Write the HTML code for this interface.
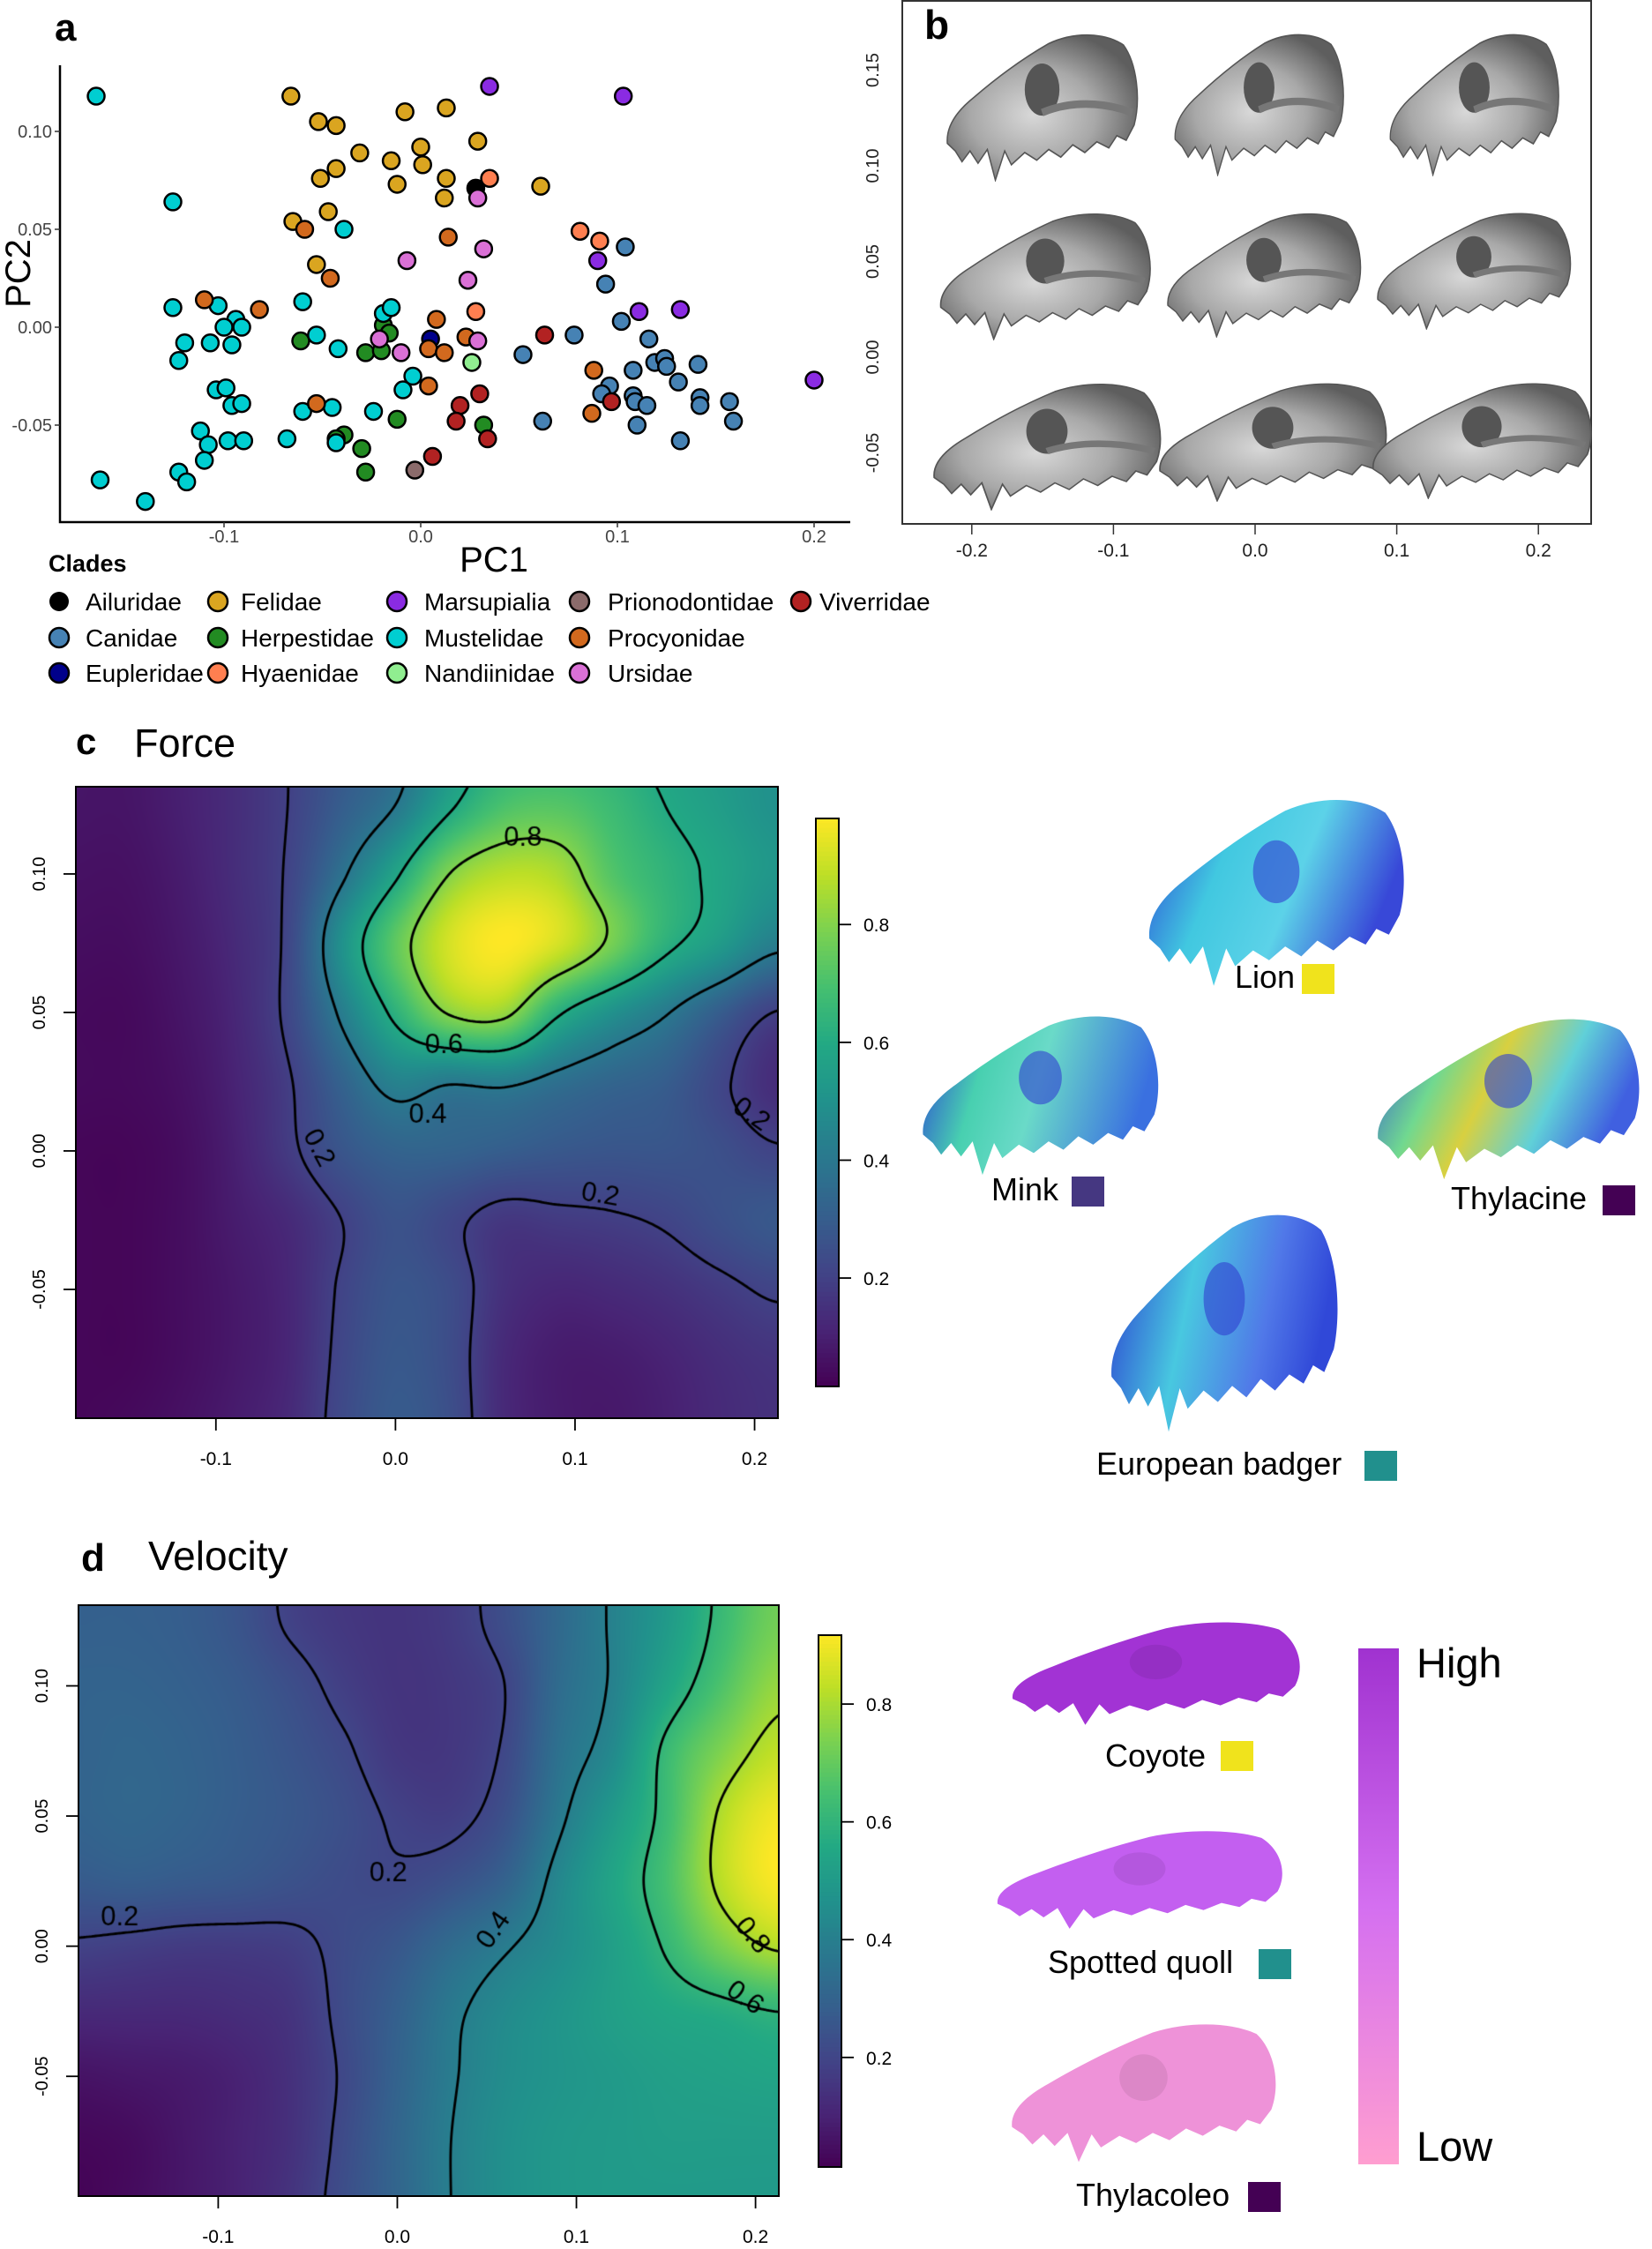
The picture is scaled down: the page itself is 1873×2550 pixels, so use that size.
<!DOCTYPE html>
<html><head><meta charset="utf-8">
<style>
html,body{margin:0;padding:0;background:#fff;}
#root{position:relative;width:1873px;height:2550px;overflow:hidden;background:#fff;font-family:"Liberation Sans",Arial,sans-serif;}
canvas{position:absolute;}
#svg{position:absolute;left:0;top:0;}
</style></head>
<body>
<div id="root">
<canvas id="forceMap" width="796" height="716" style="left:86px;top:892px"></canvas>
<canvas id="velMap" width="794" height="670" style="left:89px;top:1820px"></canvas>
<svg id="svg" width="1873" height="2550" xmlns="http://www.w3.org/2000/svg">
<defs>
<radialGradient id="grayG" cx="0.45" cy="0.55" r="0.6"><stop offset="0" stop-color="#d8d8d8"/><stop offset="0.55" stop-color="#a8a8a8"/><stop offset="1" stop-color="#5e5e5e"/></radialGradient>
<linearGradient id="blueG" x1="0" y1="0" x2="1" y2="0.3"><stop offset="0" stop-color="#2b3fd6"/><stop offset="0.35" stop-color="#41c8e0"/><stop offset="0.65" stop-color="#5cd2e8"/><stop offset="1" stop-color="#3848d8"/></linearGradient>
<linearGradient id="minkG" x1="0" y1="0" x2="1" y2="0.2"><stop offset="0" stop-color="#2b3fd6"/><stop offset="0.3" stop-color="#48d0b0"/><stop offset="0.55" stop-color="#6adac8"/><stop offset="1" stop-color="#3a70e0"/></linearGradient>
<linearGradient id="thyG" x1="0" y1="0" x2="1" y2="0.3"><stop offset="0" stop-color="#3050d8"/><stop offset="0.3" stop-color="#70d890"/><stop offset="0.5" stop-color="#d8d040"/><stop offset="0.75" stop-color="#60d0d8"/><stop offset="1" stop-color="#4060e0"/></linearGradient>
<linearGradient id="badG" x1="0" y1="0" x2="1" y2="0.2"><stop offset="0" stop-color="#2a3ad0"/><stop offset="0.4" stop-color="#48c8e0"/><stop offset="0.75" stop-color="#5078e8"/><stop offset="1" stop-color="#3048d8"/></linearGradient>
<linearGradient id="purpBar" x1="0" y1="0" x2="0" y2="1"><stop offset="0" stop-color="#a032d0"/><stop offset="0.5" stop-color="#d46ff0"/><stop offset="1" stop-color="#ff9ed0"/></linearGradient>
<path id="skull" d="M8,150 C6,128 22,108 48,90 C80,66 120,40 160,20 C200,4 245,6 272,22 C292,46 298,92 288,126 L276,146 L262,140 L250,156 L232,148 L214,162 L196,152 L178,168 L160,158 L142,172 L124,162 L104,178 L94,160 L80,198 L68,158 L54,176 L42,160 L30,174 L20,160 Z"/>
</defs>
<g id="panelA"></g>
<g id="panelB"></g>
<g id="panelC"></g>
<g id="panelD"></g>
</svg>
</div>
<script>
// ---------- Panel a data (PC1 / PC2 per clade) ----------
const cladeNames = ["Ailuridae","Canidae","Eupleridae","Felidae","Herpestidae","Hyaenidae","Marsupialia","Mustelidae","Nandiinidae","Prionodontidae","Procyonidae","Ursidae","Viverridae"];
const cladeColors = ["#000000","#4682b4","#00008b","#daa520","#228b22","#ff7f50","#8a2be2","#00ced1","#90ee90","#8b6b6b","#d2691e","#da70d6","#b22222"];
const ailuridaePC1 = [0.028];
const ailuridaePC2 = [0.071];
const canidaePC1 = [0.104,0.094,0.102,0.116,0.078,0.052,0.119,0.124,0.125,0.141,0.131,0.108,0.096,0.092,0.108,0.109,0.115,0.142,0.142,0.157,0.159,0.062,0.110,0.132];
const canidaePC2 = [0.041,0.022,0.003,-0.006,-0.004,-0.014,-0.018,-0.016,-0.020,-0.019,-0.028,-0.022,-0.030,-0.034,-0.035,-0.038,-0.040,-0.036,-0.040,-0.038,-0.048,-0.048,-0.050,-0.058];
const eupleridaePC1 = [0.005];
const eupleridaePC2 = [-0.006];
const felidaePC1 = [-0.066,-0.052,-0.043,-0.008,0.013,0.029,-0.031,0.000,-0.015,0.001,-0.051,-0.043,-0.012,0.013,0.012,0.061,-0.047,-0.065,-0.053];
const felidaePC2 = [0.118,0.105,0.103,0.110,0.112,0.095,0.089,0.092,0.085,0.083,0.076,0.081,0.073,0.076,0.066,0.072,0.059,0.054,0.032];
const herpestidaePC1 = [-0.019,-0.016,-0.061,-0.028,-0.020,-0.012,0.032,-0.039,-0.043,-0.030,-0.028];
const herpestidaePC2 = [0.001,-0.003,-0.007,-0.013,-0.012,-0.047,-0.050,-0.055,-0.057,-0.062,-0.074];
const hyaenidaePC1 = [0.035,0.081,0.091,0.028];
const hyaenidaePC2 = [0.076,0.049,0.044,0.008];
const marsupialiaPC1 = [0.035,0.103,0.090,0.111,0.132,0.200];
const marsupialiaPC2 = [0.123,0.118,0.034,0.008,0.009,-0.027];
const mustelidaePC1 = [-0.165,-0.126,-0.039,-0.126,-0.103,-0.094,-0.100,-0.091,-0.120,-0.107,-0.096,-0.123,-0.060,-0.053,-0.042,-0.104,-0.099,-0.096,-0.091,-0.060,-0.045,-0.024,-0.004,-0.009,-0.112,-0.108,-0.110,-0.098,-0.090,-0.068,-0.043,-0.123,-0.119,-0.163,-0.140,-0.019,-0.015];
const mustelidaePC2 = [0.118,0.064,0.050,0.010,0.011,0.004,0.000,0.000,-0.008,-0.008,-0.009,-0.017,0.013,-0.004,-0.011,-0.032,-0.031,-0.040,-0.039,-0.043,-0.041,-0.043,-0.025,-0.032,-0.053,-0.060,-0.068,-0.058,-0.058,-0.057,-0.059,-0.074,-0.079,-0.078,-0.089,0.007,0.010];
const nandiinidaePC1 = [0.026];
const nandiinidaePC2 = [-0.018];
const prionodontidaePC1 = [-0.003];
const prionodontidaePC2 = [-0.073];
const procyonidaePC1 = [-0.059,0.014,-0.046,-0.110,-0.082,0.008,0.023,0.004,0.012,0.004,0.088,-0.053,0.087];
const procyonidaePC2 = [0.050,0.046,0.025,0.014,0.009,0.004,-0.005,-0.011,-0.013,-0.030,-0.022,-0.039,-0.044];
const ursidaePC1 = [0.029,0.032,-0.007,0.024,-0.021,-0.010,0.029];
const ursidaePC2 = [0.066,0.040,0.034,0.024,-0.006,-0.013,-0.007];
const viverridaePC1 = [0.063,0.030,0.097,0.020,0.018,0.034,0.006];
const viverridaePC2 = [-0.004,-0.034,-0.038,-0.040,-0.048,-0.057,-0.066];
const cladePC1 = [ailuridaePC1,canidaePC1,eupleridaePC1,felidaePC1,herpestidaePC1,hyaenidaePC1,marsupialiaPC1,mustelidaePC1,nandiinidaePC1,prionodontidaePC1,procyonidaePC1,ursidaePC1,viverridaePC1];
const cladePC2 = [ailuridaePC2,canidaePC2,eupleridaePC2,felidaePC2,herpestidaePC2,hyaenidaePC2,marsupialiaPC2,mustelidaePC2,nandiinidaePC2,prionodontidaePC2,procyonidaePC2,ursidaePC2,viverridaePC2];
const aXTicks = [-0.1,0.0,0.1,0.2];
const aXTickLabels = ["-0.1","0.0","0.1","0.2"];
const aYTicks = [0.10,0.05,0.00,-0.05];
const aYTickLabels = ["0.10","0.05","0.00","-0.05"];

// ---------- Panel c / d surfaces (rows top y=0.15 → bottom y=-0.10, step 0.025; cols x=-0.18 → 0.21, step 0.03) ----------
const gridX = [-0.18,-0.15,-0.12,-0.09,-0.06,-0.03,0.00,0.03,0.06,0.09,0.12,0.15,0.18,0.21];
const gridY = [0.15,0.125,0.10,0.075,0.05,0.025,0.0,-0.025,-0.05,-0.075,-0.10];
const forceGrid = [
 [0.07,0.07,0.10,0.14,0.20,0.28,0.36,0.52,0.62,0.64,0.62,0.57,0.53,0.50],
 [0.07,0.07,0.10,0.14,0.20,0.30,0.40,0.58,0.70,0.72,0.67,0.60,0.55,0.50],
 [0.06,0.06,0.09,0.14,0.21,0.38,0.58,0.80,0.88,0.86,0.72,0.64,0.58,0.52],
 [0.05,0.05,0.08,0.13,0.22,0.50,0.74,0.92,0.98,0.92,0.78,0.63,0.54,0.43],
 [0.04,0.04,0.07,0.12,0.22,0.42,0.63,0.81,0.83,0.62,0.50,0.41,0.30,0.20],
 [0.04,0.04,0.06,0.11,0.19,0.32,0.44,0.41,0.42,0.37,0.33,0.30,0.22,0.14],
 [0.03,0.03,0.05,0.10,0.18,0.27,0.32,0.32,0.30,0.28,0.27,0.27,0.25,0.21],
 [0.03,0.03,0.05,0.09,0.13,0.20,0.26,0.22,0.17,0.18,0.19,0.21,0.25,0.28],
 [0.03,0.03,0.05,0.08,0.12,0.21,0.27,0.24,0.15,0.12,0.13,0.15,0.18,0.21],
 [0.03,0.03,0.05,0.08,0.12,0.22,0.28,0.24,0.13,0.09,0.09,0.11,0.14,0.16],
 [0.03,0.04,0.06,0.09,0.13,0.23,0.29,0.25,0.13,0.09,0.08,0.10,0.13,0.15]];
const velocityGrid = [
 [0.29,0.29,0.28,0.25,0.19,0.16,0.15,0.17,0.23,0.32,0.41,0.50,0.62,0.72],
 [0.29,0.29,0.28,0.25,0.19,0.16,0.15,0.17,0.23,0.32,0.41,0.50,0.62,0.72],
 [0.30,0.30,0.29,0.27,0.23,0.18,0.15,0.16,0.20,0.33,0.41,0.54,0.66,0.77],
 [0.30,0.31,0.30,0.28,0.25,0.21,0.16,0.16,0.21,0.35,0.44,0.62,0.74,0.83],
 [0.30,0.31,0.30,0.28,0.26,0.23,0.19,0.18,0.24,0.38,0.50,0.63,0.81,0.90],
 [0.27,0.28,0.27,0.26,0.24,0.22,0.21,0.24,0.30,0.43,0.54,0.65,0.82,0.91],
 [0.19,0.18,0.17,0.17,0.18,0.22,0.26,0.33,0.39,0.45,0.52,0.61,0.73,0.81],
 [0.12,0.12,0.12,0.13,0.15,0.22,0.29,0.38,0.44,0.48,0.52,0.55,0.57,0.60],
 [0.06,0.07,0.08,0.10,0.14,0.21,0.30,0.39,0.45,0.48,0.50,0.52,0.53,0.54],
 [0.03,0.04,0.07,0.10,0.14,0.22,0.31,0.40,0.46,0.49,0.50,0.51,0.51,0.51],
 [0.02,0.04,0.07,0.10,0.15,0.23,0.31,0.40,0.46,0.49,0.50,0.50,0.50,0.50]];
const contourLevels = [0.2,0.4,0.6,0.8];
const mapXTicks = [-0.1,0.0,0.1,0.2];
const mapXTickLabels = ["-0.1","0.0","0.1","0.2"];
const mapYTicks = [0.10,0.05,0.00,-0.05];
const mapYTickLabels = ["0.10","0.05","0.00","-0.05"];
const barTicks = [0.8,0.6,0.4,0.2];
const barTickLabels = ["0.8","0.6","0.4","0.2"];
const forceLabelText = ["0.8","0.6","0.4","0.2","0.2","0.2"];
const forceLabelX = [0.071,0.027,0.018,-0.043,0.114,0.198];
const forceLabelY = [0.113,0.038,0.013,0.001,-0.016,0.013];
const forceLabelRot = [0,0,0,62,10,35];
const velLabelText = ["0.2","0.2","0.4","0.8","0.6"];
const velLabelX = [-0.005,-0.155,0.054,0.198,0.194];
const velLabelY = [0.028,0.011,0.006,0.004,-0.020];
const velLabelRot = [0,0,-55,50,35];

const NS = 'http://www.w3.org/2000/svg';
function el(tag, attrs, parent){
  const e = document.createElementNS(NS, tag);
  for (const k in attrs) e.setAttribute(k, attrs[k]);
  if (parent) parent.appendChild(e);
  return e;
}
function txt(str, attrs, parent){ const t = el('text', attrs, parent); t.textContent = str; return t; }

// ---------- Panel a ----------
const gA = document.getElementById('panelA');
const xA = v => 477 + v * 2230;
const yA = v => 371 - v * 2220;
let t = txt('a', {x:62, y:46, 'font-size':44, 'font-weight':'bold', fill:'#000'}, gA);


let ax = el('path', {d:'M68,74 L68,592 L964,592', fill:'none', stroke:'#000', 'stroke-width':2.5}, gA);


aXTicks.forEach((v,i)=>{
  const tk = el('line', {x1:xA(v), x2:xA(v), y1:592, y2:598, stroke:'#333', 'stroke-width':1.5}, gA);
  
  
  const lb = txt(aXTickLabels[i], {x:xA(v), y:615, 'font-size':20, fill:'#444', 'text-anchor':'middle'}, gA);
  
  
});
aYTicks.forEach((v,i)=>{
  const tk = el('line', {x1:62, x2:68, y1:yA(v), y2:yA(v), stroke:'#333', 'stroke-width':1.5}, gA);
  
  
  const lb = txt(aYTickLabels[i], {x:59, y:yA(v)+7, 'font-size':20, fill:'#444', 'text-anchor':'end'}, gA);
  
  
});
t = txt('PC1', {x:560, y:648, 'font-size':40, fill:'#000', 'text-anchor':'middle'}, gA);


t = txt('PC2', {x:0, y:0, 'font-size':40, fill:'#000', 'text-anchor':'middle', transform:'translate(34,310) rotate(-90)'}, gA);


cladeNames.forEach((name,ci)=>{
  const xs = cladePC1[ci], ys = cladePC2[ci];
  xs.forEach((v,j)=>{
    const c = el('circle', {cx:xA(v), cy:yA(ys[j]), r:9.5, fill:cladeColors[ci], stroke:'#000', 'stroke-width':2.5}, gA);
    
    
  });
});
t = txt('Clades', {x:55, y:648, 'font-size':27, 'font-weight':'bold', fill:'#000'}, gA);


const legCircleX = [67,247,450,657,908];
const legTextX = [97,273,481,689,929];
const legRowY = [682,723,763];
cladeNames.forEach((name,ci)=>{
  const col = Math.floor(ci/3), row = ci%3;
  const g = el('g', {}, gA);
  
  
  el('circle', {cx:legCircleX[col], cy:legRowY[row], r:11, fill:cladeColors[ci], stroke: ci===0?'none':'#000', 'stroke-width':2.5}, g);
  txt(name, {x:legTextX[col], y:legRowY[row]+10, 'font-size':28, fill:'#000'}, g);
});

// ---------- Panel b ----------
const gB = document.getElementById('panelB');
let r = el('rect', {x:1023, y:1, width:781, height:593, fill:'none', stroke:'#333', 'stroke-width':2}, gB);


t = txt('b', {x:1048, y:44, 'font-size':46, 'font-weight':'bold', fill:'#000'}, gB);


const bXTicks = [-0.2,-0.1,0.0,0.1,0.2];
const bXTickLabels = ["-0.2","-0.1","0.0","0.1","0.2"];
const bYTicks = [0.15,0.10,0.05,0.00,-0.05];
const bYTickLabels = ["0.15","0.10","0.05","0.00","-0.05"];
const xB = v => 1423 + v * 1606;
const yB = v => 405 - v * 2170;
bXTicks.forEach((v,i)=>{
  const tk = el('line', {x1:xB(v), x2:xB(v), y1:594, y2:606, stroke:'#333', 'stroke-width':1.5}, gB);
  
  
  const lb = txt(bXTickLabels[i], {x:xB(v), y:631, 'font-size':21, fill:'#222', 'text-anchor':'middle'}, gB);
  
  
});
bYTicks.forEach((v,i)=>{
  const lb = txt(bYTickLabels[i], {x:0, y:0, 'font-size':20, fill:'#222', 'text-anchor':'middle', transform:'translate(996,'+yB(v)+') rotate(-90)'}, gB);
  
  
});
const bSkullBoxes = [[1068,32,227,174],[1327,32,201,168],[1571,32,201,168],[1060,236,250,150],[1318,236,230,147],[1556,236,230,138],[1052,429,270,150],[1308,429,270,140],[1550,429,260,137]];
bSkullBoxes.forEach((bx,i)=>{
  const s = el('svg', {x:bx[0], y:bx[1], width:bx[2], height:bx[3], viewBox:'0 0 300 200', preserveAspectRatio:'none'}, gB);
  
  
  el('use', {href:'#skull', fill:'url(#grayG)', stroke:'#555', 'stroke-width':2}, s);
  el('ellipse', {cx:150, cy:80, rx:26, ry:34, fill:'#555'}, s);
  el('path', {d:'M150,110 C190,95 240,95 285,110', fill:'none', stroke:'#777', 'stroke-width':10}, s);
});

// ---------- viridis & surfaces ----------
const vir = ["#440154","#482475","#414487","#355f8d","#2a788e","#21918c","#22a884","#44bf70","#7ad151","#bddf26","#fde725"].map(h=>[parseInt(h.substr(1,2),16),parseInt(h.substr(3,2),16),parseInt(h.substr(5,2),16)]);
function viridis(u){
  u = Math.max(0, Math.min(1, u));
  const p = u*10, i = Math.min(9, Math.floor(p)), f = p - i;
  return [0,1,2].map(k=>vir[i][k]*(1-f)+vir[i+1][k]*f);
}
function cr(p0,p1,p2,p3,u){ return 0.5*(2*p1+(-p0+p2)*u+(2*p0-5*p1+4*p2-p3)*u*u+(-p0+3*p1-3*p2+p3)*u*u*u); }
function sample(grid, x, y){
  const nx = gridX.length, ny = gridY.length;
  const fx = (x - gridX[0]) / (gridX[1]-gridX[0]);
  const fy = (gridY[0] - y) / (gridY[0]-gridY[1]);
  const ix = Math.floor(fx), iy = Math.floor(fy);
  const ux = fx - ix, uy = fy - iy;
  const cx = i => Math.max(0, Math.min(nx-1, i)), cy = j => Math.max(0, Math.min(ny-1, j));
  const rows = [];
  for (let j=-1;j<=2;j++){
    const row = grid[cy(iy+j)];
    rows.push(cr(row[cx(ix-1)],row[cx(ix)],row[cx(ix+1)],row[cx(ix+2)],ux));
  }
  return cr(rows[0],rows[1],rows[2],rows[3],uy);
}
function drawMap(canvasId, grid, x0, x1, y0, y1, vmin, vmax, labelText, labelX, labelY, labelRot){
  const cv = document.getElementById(canvasId), ctx = cv.getContext('2d');
  const W = cv.width, H = cv.height;
  const img = ctx.createImageData(W, H);
  const toX = px => x0 + px / W * (x1 - x0);
  const toY = py => y0 - py / H * (y0 - y1);
  for (let py=0; py<H; py++){
    const dy = toY(py);
    for (let px=0; px<W; px++){
      const v = sample(grid, toX(px), dy);
      const c = viridis((v - vmin)/(vmax - vmin));
      const o = (py*W+px)*4;
      img.data[o]=c[0]; img.data[o+1]=c[1]; img.data[o+2]=c[2]; img.data[o+3]=255;
    }
  }
  ctx.putImageData(img, 0, 0);
  const step = 3;
  const nx = Math.ceil(W/step)+1, ny = Math.ceil(H/step)+1;
  const F = [];
  for (let j=0;j<ny;j++){ const row=[]; for (let i=0;i<nx;i++) row.push(sample(grid, toX(i*step), toY(j*step))); F.push(row); }
  ctx.strokeStyle = '#000'; ctx.lineWidth = 2.8; ctx.lineCap = 'round';
  contourLevels.forEach(L=>{
    ctx.beginPath();
    for (let j=0;j<ny-1;j++) for (let i=0;i<nx-1;i++){
      const a=F[j][i], b=F[j][i+1], c=F[j+1][i+1], d=F[j+1][i];
      const pts=[];
      const X=i*step, Y=j*step;
      if ((a<L)!==(b<L)) pts.push([X+step*(L-a)/(b-a), Y]);
      if ((b<L)!==(c<L)) pts.push([X+step, Y+step*(L-b)/(c-b)]);
      if ((c<L)!==(d<L)) pts.push([X+step*(L-d)/(c-d), Y+step]);
      if ((d<L)!==(a<L)) pts.push([X, Y+step*(L-a)/(d-a)]);
      if (pts.length>=2){ ctx.moveTo(pts[0][0],pts[0][1]); ctx.lineTo(pts[1][0],pts[1][1]); }
      if (pts.length===4){ ctx.moveTo(pts[2][0],pts[2][1]); ctx.lineTo(pts[3][0],pts[3][1]); }
    }
    ctx.stroke();
  });
  ctx.fillStyle = '#000';
  ctx.font = '31px "Liberation Sans", Arial, sans-serif';
  ctx.textAlign = 'center'; ctx.textBaseline = 'middle';
  labelText.forEach((s,i)=>{
    const px = (labelX[i]-x0)/(x1-x0)*W, py = (y0-labelY[i])/(y0-y1)*H;
    ctx.save(); ctx.translate(px, py); ctx.rotate(labelRot[i]*Math.PI/180); ctx.fillText(s, 0, 0); ctx.restore();
  });
}
drawMap('forceMap', forceGrid, -0.178, 0.213, 0.1315, -0.0965, 0.016, 0.98, forceLabelText, forceLabelX, forceLabelY, forceLabelRot);
drawMap('velMap', velocityGrid, -0.178, 0.213, 0.131, -0.096, 0.014, 0.917, velLabelText, velLabelX, velLabelY, velLabelRot);

function mapAxes(g, pre, L, T, W, H, x0, x1, y0, y1, barX, barT, barB, bmin, bmax){
  const xs = v => L + (v - x0)/(x1 - x0)*W;
  const ys = v => T + (y0 - v)/(y0 - y1)*H;
  const fr = el('rect', {x:L, y:T, width:W, height:H, fill:'none', stroke:'#000', 'stroke-width':2}, g);
  
  
  mapXTicks.forEach((v,i)=>{
    const tk = el('line', {x1:xs(v), x2:xs(v), y1:T+H, y2:T+H+14, stroke:'#000', 'stroke-width':1.8}, g);
    
    
    const lb = txt(mapXTickLabels[i], {x:xs(v), y:T+H+53, 'font-size':21, fill:'#000', 'text-anchor':'middle'}, g);
    
    
  });
  mapYTicks.forEach((v,i)=>{
    const tk = el('line', {x1:L-14, x2:L, y1:ys(v), y2:ys(v), stroke:'#000', 'stroke-width':1.8}, g);
    
    
    const lb = txt(mapYTickLabels[i], {x:0, y:0, 'font-size':20, fill:'#000', 'text-anchor':'middle', transform:'translate('+(L-35)+','+ys(v)+') rotate(-90)'}, g);
    
    
  });
  const bar = el('g', {}, g);
  
  
  const n = 120, hh = (barB - barT)/n;
  for (let k=0;k<n;k++){
    const c = viridis(1 - (k+0.5)/n);
    el('rect', {x:barX, y:barT+k*hh, width:26, height:hh+0.6, fill:'rgb('+c.map(Math.round).join(',')+')'}, bar);
  }
  el('rect', {x:barX, y:barT, width:26, height:barB-barT, fill:'none', stroke:'#000', 'stroke-width':2}, bar);
  const bs = v => barT + (bmax - v)/(bmax - bmin)*(barB - barT);
  barTicks.forEach((v,i)=>{
    const tk = el('line', {x1:barX+26, x2:barX+40, y1:bs(v), y2:bs(v), stroke:'#000', 'stroke-width':1.8}, bar);
    
    
    const lb = txt(barTickLabels[i], {x:barX+54, y:bs(v)+8, 'font-size':21, fill:'#000'}, bar);
    
    
  });
}
const gC = document.getElementById('panelC');
const gD = document.getElementById('panelD');
mapAxes(gC, 'force', 86, 892, 796, 716, -0.178, 0.213, 0.1315, -0.0965, 925, 928, 1572, 0.016, 0.98);
mapAxes(gD, 'velocity', 89, 1820, 794, 670, -0.178, 0.213, 0.131, -0.096, 928, 1854, 2457, 0.014, 0.917);
t = txt('c', {x:86, y:855, 'font-size':42, 'font-weight':'bold', fill:'#000'}, gC);


t = txt('Force', {x:152, y:858, 'font-size':45, fill:'#000'}, gC);


t = txt('d', {x:92, y:1781, 'font-size':44, 'font-weight':'bold', fill:'#000'}, gD);


t = txt('Velocity', {x:168, y:1780, 'font-size':46, fill:'#000'}, gD);



// ---------- specimen skulls ----------
const specNames = ["Lion","Mink","Thylacine","European badger","Coyote","Spotted quoll","Thylacoleo"];
const specFills = ["url(#blueG)","url(#minkG)","url(#thyG)","url(#badG)","#a233d4","#c35ff0","#ee92d8"];
const specBoxes = [[1295,897,304,223],[1039,1144,281,190],[1554,1147,312,192],[1253,1366,270,260],[1139,1834,343,123],[1122,2071,340,117],[1139,2288,315,165]];
const specTextX = [1400,1124,1645,1243,1253,1188,1220];
const specTextY = [1120,1361,1371,1672,2003,2237,2501];
const specSwatch = [[1476,1093,"#f0e31c"],[1215,1334,"#453781"],[1817,1344,"#440154"],[1547,1645,"#21908d"],[1384,1974,"#f0e31c"],[1427,2210,"#21908d"],[1415,2474,"#440154"]];
specNames.forEach((name,i)=>{
  const host = i<4 ? gC : gD;
  const b = specBoxes[i];
  const s = el('svg', {x:b[0], y:b[1], width:b[2], height:b[3], viewBox:'0 0 300 200', preserveAspectRatio:'none'}, host);
  
  
  el('use', {href:'#skull', fill:specFills[i]}, s);
  el('ellipse', {cx:150, cy:82, rx:26, ry:32, fill: i<4 ? '#3040d0' : 'rgba(0,0,0,0.12)', opacity:0.6}, s);
  const lb = txt(name, {x:specTextX[i], y:specTextY[i], 'font-size':36, fill:'#000'}, host);
  
  
  const sw = el('rect', {x:specSwatch[i][0], y:specSwatch[i][1], width:37, height:34, fill:specSwatch[i][2]}, host);
  
  
});
const hb = el('rect', {x:1540, y:1869, width:46, height:585, fill:'url(#purpBar)'}, gD);


t = txt('High', {x:1606, y:1902, 'font-size':47, fill:'#000'}, gD);


t = txt('Low', {x:1606, y:2450, 'font-size':47, fill:'#000'}, gD);


</script>
</body></html>
